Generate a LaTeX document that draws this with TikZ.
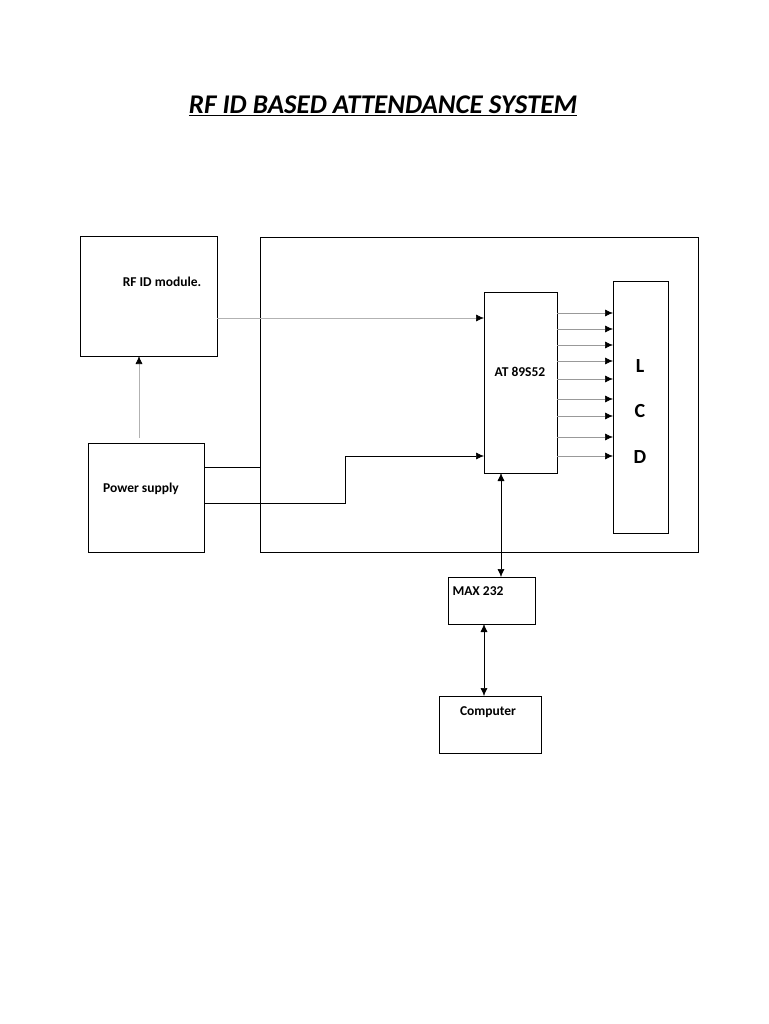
\documentclass[tikz,border=0pt]{standalone}
\usepackage{fontspec}
\setmainfont{Carlito}
\usetikzlibrary{arrows.meta}
\begin{document}
\begin{tikzpicture}[x=1pt,y=-1pt,
  blk/.style={draw,line width=0.8pt},
  lbl/.style={font=\bfseries\fontsize{13.5}{16}\selectfont,inner sep=0},
  big/.style={font=\bfseries\fontsize{20}{24}\selectfont},
  arr/.style={-{Latex[length=8pt,width=7pt,color=black]},line width=0.6pt},
  darr/.style={{Latex[length=8pt,width=7pt]}-{Latex[length=8pt,width=7pt]},line width=0.5pt}]
\useasboundingbox (0,0) rectangle (768,1024);
\node[font=\bfseries\itshape\fontsize{27}{32}\selectfont] (title) at (383,106) {\underline{RF ID BASED ATTENDANCE SYSTEM}};
\draw[blk] (80,236) rectangle (217,356);
\coordinate (rfr) at (217,318); \coordinate (rfb) at (139,356);
\draw[blk] (88,443) rectangle (204,552);
\coordinate (pst) at (139,438);
\draw[blk] (260,237) rectangle (698,552);
\draw[blk] (484,292) rectangle (557,473);
\draw[blk] (613,281) rectangle (668,533);
\draw[blk] (448,577) rectangle (535,624);
\draw[blk] (439,696) rectangle (541,753);
\node[lbl] (rf) at (162,282) {RF ID module.};
\node[lbl] (ps) at (141,489) {Power supply};
\node[lbl] (at) at (520,372) {AT 89S52};
\node[lbl] (max) at (478,591) {MAX 232};
\node[lbl] (pc) at (488,712) {Computer};
\node[big] (l) at (640,366) {L};
\node[big] (c) at (640,411) {C};
\node[big] (d) at (640,457) {D};
\draw[arr,black!30] (rfr) -- (484,318);
\draw[arr,black!30] (pst) -- (rfb);
\draw[line width=0.7pt] (204,467) -- (260,467);
\draw[arr] (204,503) -- (345,503) -- (345,456) -- (484,456);
\foreach \y in {313,329,345,361,379,399,416,437,456}
  \draw[arr,black!40] (557,\y) -- (613,\y);
\draw[darr] (501,473) -- (501,577);
\draw[darr] (484,624) -- (484,696);
\end{tikzpicture}
\end{document}
